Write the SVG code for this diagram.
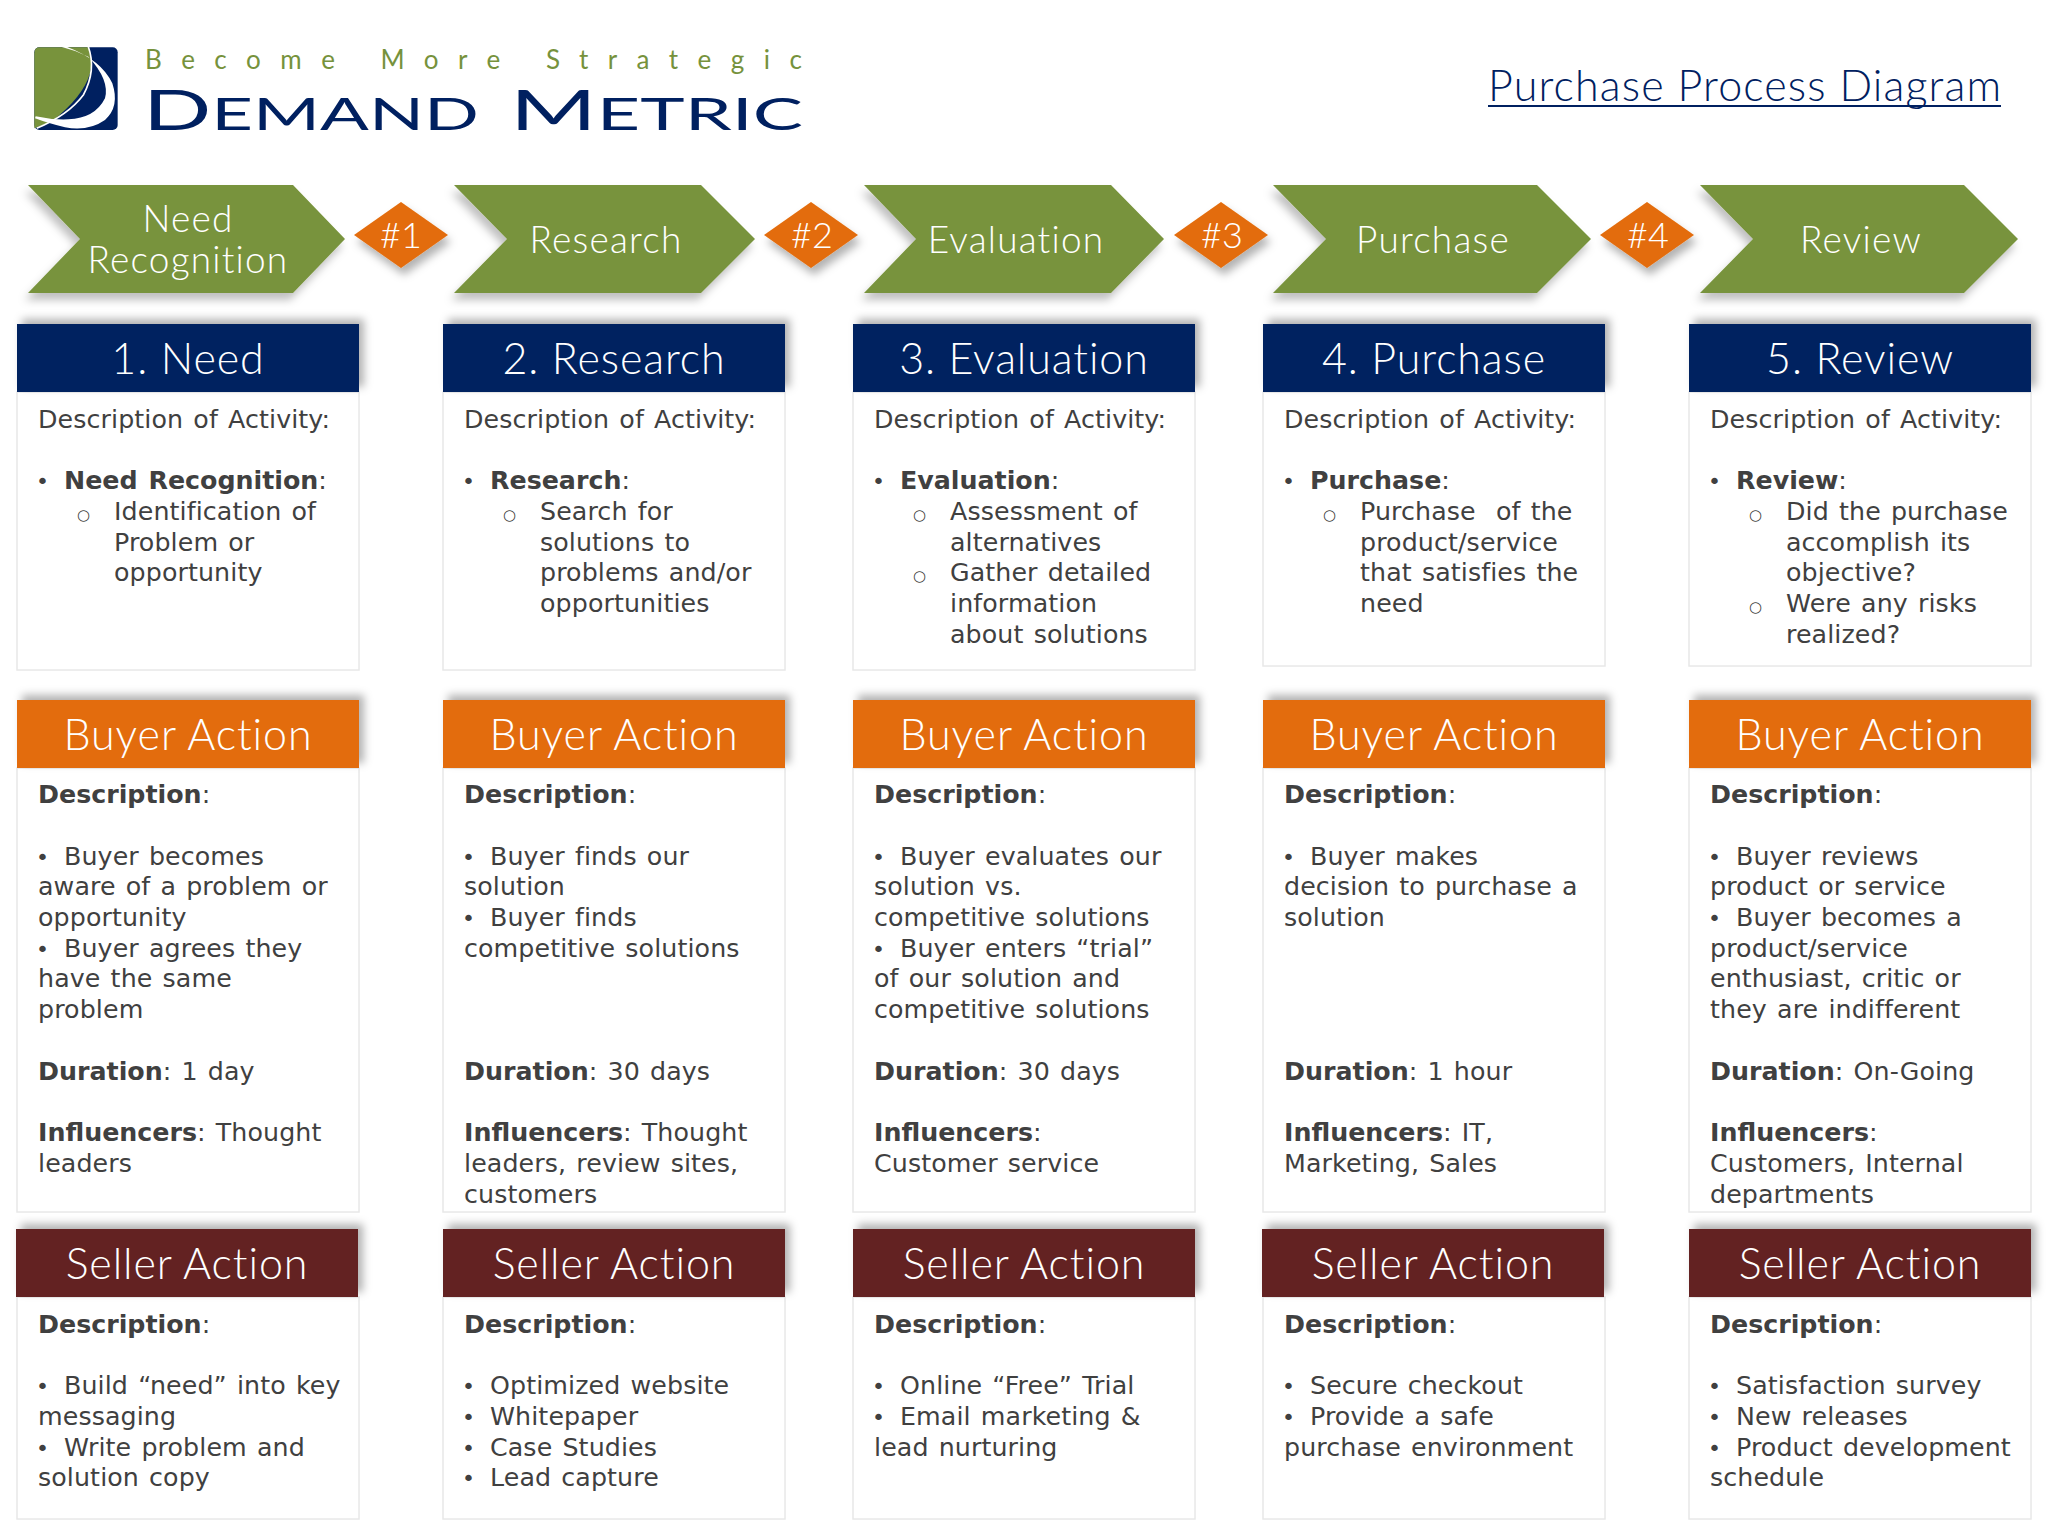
<svg xmlns="http://www.w3.org/2000/svg" width="2048" height="1536" viewBox="0 0 2048 1536">
<style>
.h{font-family:"Lato","Liberation Sans",sans-serif;font-weight:300;fill:#fff;text-anchor:middle}
.hh{font-size:43px;letter-spacing:.9px}
.ch{font-size:37px;letter-spacing:1.2px}
.d{font-size:36px}
.t{font-family:"DejaVu Sans","Liberation Sans",sans-serif;font-size:25.3px;letter-spacing:.1px;word-spacing:2px;fill:#404040}
.t tspan{font-weight:700;letter-spacing:0}
.b{font-family:"DejaVu Sans",sans-serif;font-size:22px;fill:#404040}
.o{font-family:"DejaVu Sans",sans-serif;font-size:15px;fill:#404040}
.card{fill:#fff;stroke:#e8e8e8;stroke-width:1.5}
.green{fill:#78933c;filter:url(#s1)}
.dia{fill:#e36c0a;filter:url(#s2)}
.navy{fill:#002060;filter:url(#s3)}
.orange{fill:#e36c0a;filter:url(#s3)}
.maroon{fill:#632423;filter:url(#s3)}
.logo-name{font-family:Lato,sans-serif;font-size:45px;fill:#002060}
.logo-name tspan{font-size:56px}
</style>
<defs>
<filter id="s1" x="-10%" y="-10%" width="120%" height="125%"><feDropShadow dx="-3" dy="7" stdDeviation="4" flood-color="#000" flood-opacity=".25"/></filter>
<filter id="s2" x="-20%" y="-20%" width="140%" height="150%"><feDropShadow dx="3" dy="7" stdDeviation="4" flood-color="#000" flood-opacity=".3"/></filter>
<filter id="s3" x="-10%" y="-30%" width="120%" height="160%"><feDropShadow dx="5" dy="-5" stdDeviation="4" flood-color="#000" flood-opacity=".3"/></filter>
</defs>
<rect width="2048" height="1536" fill="#fff"/>
<g id="logo">
<g transform="translate(25 40) scale(.3333)">
<rect x="28" y="22" width="250" height="248" rx="15" fill="#002060"/>
<path d="M28 40Q28 22 45 22L190 22Q205 60 195 100Q175 170 80 245L28 265Z" fill="#78933c"/>
<path d="M108 20L125 20Q230 60 262 130Q285 200 240 240Q190 275 120 262Q70 250 30 235L32 229Q80 240 130 238Q210 235 240 175Q255 120 190 50Q150 30 108 20Z" fill="#fff"/>
<path d="M190 20Q215 90 175 165Q130 225 35 265" fill="none" stroke="#fff" stroke-width="5"/>
</g>
<text x="145" y="69" textLength="657" font-family="Lato,sans-serif" font-size="26" fill="#76923c">Become More Strategic</text>
<text class="logo-name" x="143" y="130" textLength="336" lengthAdjust="spacingAndGlyphs"><tspan>D</tspan>EMAND</text>
<text class="logo-name" x="510" y="130" textLength="293" lengthAdjust="spacingAndGlyphs"><tspan>M</tspan>ETRIC</text>
</g>
<g id="title"><text x="1488" y="101" font-family="Lato,sans-serif" font-weight="300" font-size="43" fill="#002060" textLength="513">Purchase Process Diagram</text><rect x="1488" y="105" width="513" height="2" fill="#002060"/></g>
<g id="stage-need"><path class="green" d="M28 185H293L345 239L293 293H28L80 239Z"/><text class="h ch" x="188" y="232">Need</text><text class="h ch" x="188" y="273">Recognition</text></g>
<g id="stage-research"><path class="green" d="M454 185H701L755 239L701 293H454L507 239Z"/><text class="h ch" x="606" y="253">Research</text></g>
<g id="stage-evaluation"><path class="green" d="M864 185H1111L1164 239L1111 293H864L916 239Z"/><text class="h ch" x="1016" y="253">Evaluation</text></g>
<g id="stage-purchase"><path class="green" d="M1273 185H1537L1591 239L1537 293H1273L1326 239Z"/><text class="h ch" x="1433" y="253">Purchase</text></g>
<g id="stage-review"><path class="green" d="M1700 185H1964L2018 239L1964 293H1700L1753 239Z"/><text class="h ch" x="1861" y="253">Review</text></g>
<g id="step-1"><path class="dia" d="M401 202L448 235L401 268L354 235Z"/><text class="h d" x="401" y="248">#1</text></g>
<g id="step-2"><path class="dia" d="M811 202L858 235L811 268L764 235Z"/><text class="h d" x="812" y="248">#2</text></g>
<g id="step-3"><path class="dia" d="M1221 202L1268 235L1221 268L1174 235Z"/><text class="h d" x="1222" y="248">#3</text></g>
<g id="step-4"><path class="dia" d="M1647 202L1694 235L1647 268L1600 235Z"/><text class="h d" x="1648" y="248">#4</text></g>

<g id="need-card" transform="translate(17 0)"><rect class="card" y="392" width="342" height="278"/><rect class="navy" y="324" width="342" height="68"/><text class="h hh" x="171" y="374">1. Need</text>
<text class="t" x="21" y="428">Description of Activity:</text>
<text class="b" x="19" y="489">•</text><text class="t" x="47" y="489"><tspan>Need Recognition</tspan>:</text>
<text class="o" x="60" y="520">○</text><text class="t" x="97" y="520">Identification of</text><text class="t" x="97" y="551">Problem or</text><text class="t" x="97" y="581">opportunity</text></g>
<g id="research-card" transform="translate(443 0)"><rect class="card" y="392" width="342" height="278"/><rect class="navy" y="324" width="342" height="68"/><text class="h hh" x="171" y="374">2. Research</text>
<text class="t" x="21" y="428">Description of Activity:</text>
<text class="b" x="19" y="489">•</text><text class="t" x="47" y="489"><tspan>Research</tspan>:</text>
<text class="o" x="60" y="520">○</text><text class="t" x="97" y="520">Search for</text><text class="t" x="97" y="551">solutions to</text><text class="t" x="97" y="581">problems and/or</text><text class="t" x="97" y="612">opportunities</text></g>
<g id="evaluation-card" transform="translate(853 0)"><rect class="card" y="392" width="342" height="278"/><rect class="navy" y="324" width="342" height="68"/><text class="h hh" x="171" y="374">3. Evaluation</text>
<text class="t" x="21" y="428">Description of Activity:</text>
<text class="b" x="19" y="489">•</text><text class="t" x="47" y="489"><tspan>Evaluation</tspan>:</text>
<text class="o" x="60" y="520">○</text><text class="t" x="97" y="520">Assessment of</text><text class="t" x="97" y="551">alternatives</text><text class="o" x="60" y="581">○</text><text class="t" x="97" y="581">Gather detailed</text><text class="t" x="97" y="612">information</text><text class="t" x="97" y="643">about solutions</text></g>
<g id="purchase-card" transform="translate(1263 0)"><rect class="card" y="392" width="342" height="274"/><rect class="navy" y="324" width="342" height="68"/><text class="h hh" x="171" y="374">4. Purchase</text>
<text class="t" x="21" y="428">Description of Activity:</text>
<text class="b" x="19" y="489">•</text><text class="t" x="47" y="489"><tspan>Purchase</tspan>:</text>
<text class="o" x="60" y="520">○</text><text class="t" x="97" y="520" xml:space="preserve">Purchase  of the</text><text class="t" x="97" y="551">product/service</text><text class="t" x="97" y="581">that satisfies the</text><text class="t" x="97" y="612">need</text></g>
<g id="review-card" transform="translate(1689 0)"><rect class="card" y="392" width="342" height="274"/><rect class="navy" y="324" width="342" height="68"/><text class="h hh" x="171" y="374">5. Review</text>
<text class="t" x="21" y="428">Description of Activity:</text>
<text class="b" x="19" y="489">•</text><text class="t" x="47" y="489"><tspan>Review</tspan>:</text>
<text class="o" x="60" y="520">○</text><text class="t" x="97" y="520">Did the purchase</text><text class="t" x="97" y="551">accomplish its</text><text class="t" x="97" y="581">objective?</text><text class="o" x="60" y="612">○</text><text class="t" x="97" y="612">Were any risks</text><text class="t" x="97" y="643">realized?</text></g>

<g id="buyer-1" transform="translate(17 0)"><rect class="card" y="768" width="342" height="444"/><rect class="orange" y="700" width="342" height="68"/><text class="h hh" x="171" y="750">Buyer Action</text>
<text class="t" x="21" y="803"><tspan>Description</tspan>:</text>
<text class="b" x="19" y="865">•</text><text class="t" x="47" y="865">Buyer becomes</text><text class="t" x="21" y="895">aware of a problem or</text><text class="t" x="21" y="926">opportunity</text><text class="b" x="19" y="957">•</text><text class="t" x="47" y="957">Buyer agrees they</text><text class="t" x="21" y="987">have the same</text><text class="t" x="21" y="1018">problem</text>
<text class="t" x="21" y="1080"><tspan>Duration</tspan>: 1 day</text>
<text class="t" x="21" y="1141"><tspan>Influencers</tspan>: Thought</text><text class="t" x="21" y="1172">leaders</text></g>
<g id="buyer-2" transform="translate(443 0)"><rect class="card" y="768" width="342" height="444"/><rect class="orange" y="700" width="342" height="68"/><text class="h hh" x="171" y="750">Buyer Action</text>
<text class="t" x="21" y="803"><tspan>Description</tspan>:</text>
<text class="b" x="19" y="865">•</text><text class="t" x="47" y="865">Buyer finds our</text><text class="t" x="21" y="895">solution</text><text class="b" x="19" y="926">•</text><text class="t" x="47" y="926">Buyer finds</text><text class="t" x="21" y="957">competitive solutions</text>
<text class="t" x="21" y="1080"><tspan>Duration</tspan>: 30 days</text>
<text class="t" x="21" y="1141"><tspan>Influencers</tspan>: Thought</text><text class="t" x="21" y="1172">leaders, review sites,</text><text class="t" x="21" y="1203">customers</text></g>
<g id="buyer-3" transform="translate(853 0)"><rect class="card" y="768" width="342" height="444"/><rect class="orange" y="700" width="342" height="68"/><text class="h hh" x="171" y="750">Buyer Action</text>
<text class="t" x="21" y="803"><tspan>Description</tspan>:</text>
<text class="b" x="19" y="865">•</text><text class="t" x="47" y="865">Buyer evaluates our</text><text class="t" x="21" y="895">solution vs.</text><text class="t" x="21" y="926">competitive solutions</text><text class="b" x="19" y="957">•</text><text class="t" x="47" y="957">Buyer enters “trial”</text><text class="t" x="21" y="987">of our solution and</text><text class="t" x="21" y="1018">competitive solutions</text>
<text class="t" x="21" y="1080"><tspan>Duration</tspan>: 30 days</text>
<text class="t" x="21" y="1141"><tspan>Influencers</tspan>:</text><text class="t" x="21" y="1172">Customer service</text></g>
<g id="buyer-4" transform="translate(1263 0)"><rect class="card" y="768" width="342" height="444"/><rect class="orange" y="700" width="342" height="68"/><text class="h hh" x="171" y="750">Buyer Action</text>
<text class="t" x="21" y="803"><tspan>Description</tspan>:</text>
<text class="b" x="19" y="865">•</text><text class="t" x="47" y="865">Buyer makes</text><text class="t" x="21" y="895">decision to purchase a</text><text class="t" x="21" y="926">solution</text>
<text class="t" x="21" y="1080"><tspan>Duration</tspan>: 1 hour</text>
<text class="t" x="21" y="1141"><tspan>Influencers</tspan>: IT,</text><text class="t" x="21" y="1172">Marketing, Sales</text></g>
<g id="buyer-5" transform="translate(1689 0)"><rect class="card" y="768" width="342" height="444"/><rect class="orange" y="700" width="342" height="68"/><text class="h hh" x="171" y="750">Buyer Action</text>
<text class="t" x="21" y="803"><tspan>Description</tspan>:</text>
<text class="b" x="19" y="865">•</text><text class="t" x="47" y="865">Buyer reviews</text><text class="t" x="21" y="895">product or service</text><text class="b" x="19" y="926">•</text><text class="t" x="47" y="926">Buyer becomes a</text><text class="t" x="21" y="957">product/service</text><text class="t" x="21" y="987">enthusiast, critic or</text><text class="t" x="21" y="1018">they are indifferent</text>
<text class="t" x="21" y="1080"><tspan>Duration</tspan>: On-Going</text>
<text class="t" x="21" y="1141"><tspan>Influencers</tspan>:</text><text class="t" x="21" y="1172">Customers, Internal</text><text class="t" x="21" y="1203">departments</text></g>

<g id="seller-1" transform="translate(17 0)"><rect class="card" y="1297" width="342" height="222"/><rect class="maroon" x="-1" y="1229" width="342" height="68"/><text class="h hh" x="170" y="1279">Seller Action</text>
<text class="t" x="21" y="1333"><tspan>Description</tspan>:</text>
<text class="b" x="19" y="1394">•</text><text class="t" x="47" y="1394">Build “need” into key</text><text class="t" x="21" y="1425">messaging</text><text class="b" x="19" y="1456">•</text><text class="t" x="47" y="1456">Write problem and</text><text class="t" x="21" y="1486">solution copy</text></g>
<g id="seller-2" transform="translate(443 0)"><rect class="card" y="1297" width="342" height="222"/><rect class="maroon" y="1229" width="342" height="68"/><text class="h hh" x="171" y="1279">Seller Action</text>
<text class="t" x="21" y="1333"><tspan>Description</tspan>:</text>
<text class="b" x="19" y="1394">•</text><text class="t" x="47" y="1394">Optimized website</text><text class="b" x="19" y="1425">•</text><text class="t" x="47" y="1425">Whitepaper</text><text class="b" x="19" y="1456">•</text><text class="t" x="47" y="1456">Case Studies</text><text class="b" x="19" y="1486">•</text><text class="t" x="47" y="1486">Lead capture</text></g>
<g id="seller-3" transform="translate(853 0)"><rect class="card" y="1297" width="342" height="222"/><rect class="maroon" y="1229" width="342" height="68"/><text class="h hh" x="171" y="1279">Seller Action</text>
<text class="t" x="21" y="1333"><tspan>Description</tspan>:</text>
<text class="b" x="19" y="1394">•</text><text class="t" x="47" y="1394">Online “Free” Trial</text><text class="b" x="19" y="1425">•</text><text class="t" x="47" y="1425">Email marketing &amp;</text><text class="t" x="21" y="1456">lead nurturing</text></g>
<g id="seller-4" transform="translate(1263 0)"><rect class="card" y="1297" width="342" height="222"/><rect class="maroon" x="-1" y="1229" width="342" height="68"/><text class="h hh" x="170" y="1279">Seller Action</text>
<text class="t" x="21" y="1333"><tspan>Description</tspan>:</text>
<text class="b" x="19" y="1394">•</text><text class="t" x="47" y="1394">Secure checkout</text><text class="b" x="19" y="1425">•</text><text class="t" x="47" y="1425">Provide a safe</text><text class="t" x="21" y="1456">purchase environment</text></g>
<g id="seller-5" transform="translate(1689 0)"><rect class="card" y="1297" width="342" height="222"/><rect class="maroon" y="1229" width="342" height="68"/><text class="h hh" x="171" y="1279">Seller Action</text>
<text class="t" x="21" y="1333"><tspan>Description</tspan>:</text>
<text class="b" x="19" y="1394">•</text><text class="t" x="47" y="1394">Satisfaction survey</text><text class="b" x="19" y="1425">•</text><text class="t" x="47" y="1425">New releases</text><text class="b" x="19" y="1456">•</text><text class="t" x="47" y="1456">Product development</text><text class="t" x="21" y="1486">schedule</text></g>
</svg>
